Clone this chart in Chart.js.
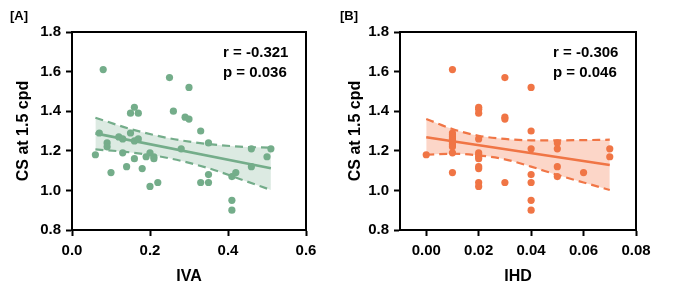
<!DOCTYPE html>
<html><head><meta charset="utf-8">
<script src="https://cdn.jsdelivr.net/npm/chart.js@4.4.1/dist/chart.umd.min.js"></script>
<style>
html,body{margin:0;padding:0;background:#fff;width:685px;height:300px;overflow:hidden}
canvas{position:absolute;top:0}
#cA{left:0}
#cB{left:335px}
</style></head><body>
<canvas id="cA" width="335" height="300"></canvas>
<canvas id="cB" width="350" height="300"></canvas>
<script>
// ---------- Panel A: IVA vs CS ----------
const ivaX = [0.06,0.07,0.08,0.09,0.09,0.10,0.12,0.13,0.13,0.14,0.15,0.15,0.16,0.16,0.16,0.17,0.17,0.18,0.19,0.20,0.20,0.21,0.21,0.22,0.25,0.26,0.28,0.29,0.30,0.30,0.33,0.33,0.35,0.35,0.35,0.41,0.41,0.41,0.42,0.46,0.46,0.50,0.51];
const ivaCS = [1.18,1.29,1.61,1.24,1.22,1.09,1.27,1.26,1.19,1.12,1.39,1.29,1.42,1.25,1.16,1.39,1.26,1.11,1.17,1.19,1.02,1.17,1.16,1.04,1.57,1.40,1.21,1.37,1.36,1.52,1.30,1.04,1.24,1.08,1.04,1.07,0.95,0.90,1.09,1.21,1.12,1.17,1.21];
const fitAX = [0.06,0.51];
const fitAY = [1.288,1.112];
const bandAX = [0.06,0.15,0.25,0.35,0.43,0.51];
const bandAUpper = [1.367,1.310,1.263,1.234,1.221,1.216];
const bandALower = [1.207,1.192,1.162,1.112,1.058,1.002];
const xTicksA = [0.0,0.2,0.4,0.6];

// ---------- Panel B: IHD vs CS ----------
const ihdX = [0.00,0.01,0.01,0.01,0.01,0.01,0.01,0.01,0.01,0.01,0.01,0.01,0.02,0.02,0.02,0.02,0.02,0.02,0.02,0.02,0.02,0.02,0.02,0.02,0.03,0.03,0.03,0.03,0.04,0.04,0.04,0.04,0.04,0.04,0.04,0.05,0.05,0.05,0.05,0.06,0.07,0.07];
const ihdCS = [1.18,1.61,1.29,1.28,1.27,1.26,1.25,1.24,1.23,1.22,1.19,1.09,1.42,1.41,1.39,1.26,1.19,1.18,1.17,1.16,1.12,1.11,1.04,1.02,1.57,1.37,1.36,1.04,1.52,1.30,1.21,1.08,1.04,0.95,0.90,1.24,1.21,1.12,1.07,1.09,1.21,1.17];
const fitBX = [0.00,0.07];
const fitBY = [1.268,1.128];
const bandBX = [0.00,0.01,0.02,0.03,0.04,0.05,0.06,0.07];
const bandBUpper = [1.361,1.310,1.276,1.260,1.253,1.253,1.254,1.256];
const bandBLower = [1.180,1.185,1.177,1.157,1.120,1.078,1.040,1.002];
const xTicksB = [0.00,0.02,0.04,0.06,0.08];

// ---------- shared ----------
const yTicks = [0.8,1.0,1.2,1.4,1.6,1.8];
const yTitle = 'CS at 1.5 cpd';
const panelLabels = ['[A]','[B]'];
const xTitles = ['IVA','IHD'];
const statsA = ['r = -0.321','p = 0.036'];
const statsB = ['r = -0.306','p = 0.046'];

const FONT = "'Liberation Sans', Arial, Helvetica, sans-serif";

const decoPlugin = {
  id: 'deco',
  afterDraw(chart, args, opts) {
    const {ctx, chartArea: a} = chart;
    ctx.save();
    ctx.strokeStyle = '#000';
    ctx.lineWidth = 2;
    ctx.beginPath();
    ctx.moveTo(a.left - 1, a.top);
    ctx.lineTo(a.right, a.top);
    ctx.lineTo(a.right, a.bottom + 1);
    ctx.stroke();
    ctx.fillStyle = '#000';
    ctx.font = 'bold 15px ' + FONT;
    ctx.textAlign = 'left';
    ctx.textBaseline = 'alphabetic';
    ctx.fillText(opts.stats[0], a.right - 83, 57);
    ctx.fillText(opts.stats[1], a.right - 83, 77);
    ctx.font = 'bold 13px ' + FONT;
    ctx.fillText(opts.label, opts.labelX, 20);
    ctx.restore();
  }
};

function toPts(xs, ys) { return xs.map((x, i) => ({x: x, y: ys[i]})); }

function makeChart(id, cfg) {
  return new Chart(document.getElementById(id), {
    type: 'scatter',
    data: {
      datasets: [
        {data: toPts(cfg.x, cfg.y), backgroundColor: cfg.color, borderWidth: 0, pointRadius: 3.6, showLine: false},
        {data: toPts(cfg.fitX, cfg.fitY), showLine: true, borderColor: cfg.color, borderWidth: 2.6, pointRadius: 0, fill: false},
        {data: toPts(cfg.bandX, cfg.upper), showLine: true, borderColor: cfg.color, borderWidth: 2.2, borderDash: [8,5], pointRadius: 0, cubicInterpolationMode: 'monotone', fill: '+1', backgroundColor: cfg.fill},
        {data: toPts(cfg.bandX, cfg.lower), showLine: true, borderColor: cfg.color, borderWidth: 2.2, borderDash: [8,5], pointRadius: 0, cubicInterpolationMode: 'monotone', fill: false}
      ]
    },
    options: {
      responsive: false,
      animation: false,
      devicePixelRatio: 1,
      layout: {padding: {left: 0, right: cfg.padRight, top: 32, bottom: 0}},
      plugins: {
        legend: {display: false},
        tooltip: {enabled: false},
        deco: {stats: cfg.stats, label: cfg.label, labelX: cfg.labelX}
      },
      scales: {
        x: {
          type: 'linear',
          min: cfg.xMin, max: cfg.xMax,
          afterBuildTicks: s => { s.ticks = cfg.xTicks.map(v => ({value: v})); },
          afterFit: s => { s.height = 70; },
          grid: {display: true, drawOnChartArea: false, drawTicks: true, tickLength: 6, tickColor: '#000', tickWidth: 2, color: '#000'},
          border: {display: true, color: '#000', width: 2},
          ticks: {color: '#000', font: {family: FONT, size: 15, weight: 'bold'}, padding: 6, maxRotation: 0,
                  callback: v => Number(v).toFixed(cfg.xDec)},
          title: {display: true, text: cfg.xTitle, color: '#000', font: {family: FONT, size: 16, weight: 'bold'}, padding: {top: 0, bottom: 14}}
        },
        y: {
          type: 'linear',
          min: 0.8, max: 1.8,
          afterBuildTicks: s => { s.ticks = yTicks.map(v => ({value: v})); },
          afterFit: s => { s.width = cfg.yWidth; },
          grid: {display: true, drawOnChartArea: false, drawTicks: true, tickLength: 6, tickColor: '#000', tickWidth: 2, color: '#000'},
          border: {display: true, color: '#000', width: 2},
          ticks: {color: '#000', font: {family: FONT, size: 15, weight: 'bold'}, padding: 5,
                  callback: v => Number(v).toFixed(1)},
          title: {display: true, text: yTitle, color: '#000', font: {family: FONT, size: 16, weight: 'bold'}, padding: {top: cfg.yTitlePad, bottom: 0}}
        }
      }
    },
    plugins: [decoPlugin]
  });
}

makeChart('cA', {
  x: ivaX, y: ivaCS, fitX: fitAX, fitY: fitAY, bandX: bandAX, upper: bandAUpper, lower: bandALower,
  color: '#74ad8a', fill: 'rgba(116,173,138,0.25)', xMin: 0, xMax: 0.6, xTicks: xTicksA, xDec: 1,
  xTitle: xTitles[0], stats: statsA, label: panelLabels[0], labelX: 10,
  padRight: 29, yWidth: 72, yTitlePad: 14
});
makeChart('cB', {
  x: ihdX, y: ihdCS, fitX: fitBX, fitY: fitBY, bandX: bandBX, upper: bandBUpper, lower: bandBLower,
  color: '#f07545', fill: 'rgba(246,128,85,0.32)', xMin: -0.01, xMax: 0.08, xTicks: xTicksB, xDec: 2,
  xTitle: xTitles[1], stats: statsB, label: panelLabels[1], labelX: 5,
  padRight: 49, yWidth: 65, yTitlePad: 11
});
</script>
</body></html>
